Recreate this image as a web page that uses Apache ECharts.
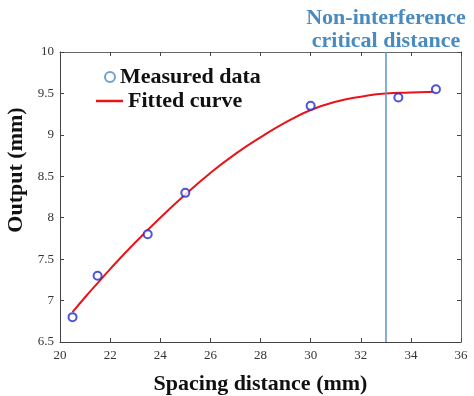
<!DOCTYPE html>
<html lang="en">
<head>
    <meta charset="UTF-8">
    <title>Output vs spacing distance</title>
    <style>
        *{ margin: 0; padding: 0; }
        body{ background: #fff; }
        #chart{ width: 474px; height: 396px; }
    </style>
</head>
<body>
    <div id="chart"></div>
    <script src="https://cdn.jsdelivr.net/npm/echarts@6/dist/echarts.min.js"></script>
    <script>
        // measured points
        var measuredX = [20.5, 21.5, 23.5, 25, 30, 33.5, 35];
        var measuredY = [6.8, 7.3, 7.8, 8.3, 9.35, 9.45, 9.55];
        // fitted curve
        var fitX = [20.5, 21, 21.5, 22, 23, 24, 25, 26, 27, 28, 29, 30, 31, 32, 33, 34, 35];
        var fitY = [6.86, 7.04, 7.21, 7.38, 7.7, 8.0, 8.28, 8.54, 8.77, 8.97, 9.15, 9.3, 9.4, 9.46, 9.5, 9.51, 9.52];
        var criticalX = 33;
        var xTicks = [20, 36, 2];
        var yTicks = [6.5, 10, 0.5];

        var serif = '"Liberation Serif", "DejaVu Serif", serif';
        var chart = echarts.init(document.getElementById('chart'));

        function pairs(xs, ys){
            return xs.map(function(x, i){ return [x, ys[i]]; });
        }

        function frameAxis(pos){
            return {
                type: 'value',
                position: pos,
                min: pos === 'top' ? xTicks[0] : yTicks[0],
                max: pos === 'top' ? xTicks[1] : yTicks[1],
                interval: pos === 'top' ? xTicks[2] : yTicks[2],
                axisLine: { show: true, lineStyle: { color: '#666', width: 1 } },
                axisTick: { show: true, inside: true, length: 4, lineStyle: { color: '#444' } },
                axisLabel: { show: false },
                splitLine: { show: false }
            };
        }

        var nameStyle = { fontFamily: serif, fontWeight: 'bold', fontSize: 22, color: '#111' };
        var tickStyle = { fontFamily: serif, fontSize: 13, color: '#333' };

        var option = {
            animation: false,
            grid: { left: 60, right: 13, top: 52, bottom: 54, outerBoundsMode: 'none' },
            title: {
                text: 'Non-interference\ncritical distance',
                left: 381,
                top: 2,
                textAlign: 'center',
                textStyle: {
                    fontFamily: serif,
                    fontWeight: 'bold',
                    fontSize: 22,
                    lineHeight: 23,
                    color: '#4a8bbf'
                }
            },
            legend: [{
                data: [{
                    name: 'Measured data',
                    icon: 'emptyCircle',
                    itemStyle: { color: '#4a8bbf', borderColor: '#4a8bbf', borderWidth: 2 }
                }],
                left: 99,
                top: 61,
                itemWidth: 10,
                itemHeight: 10,
                textStyle: nameStyle
            }, {
                data: [{ name: 'Fitted curve', icon: 'rect' }],
                left: 91,
                top: 85,
                itemWidth: 27,
                itemHeight: 2.5,
                textStyle: nameStyle
            }],
            xAxis: [{
                type: 'value',
                min: xTicks[0],
                max: xTicks[1],
                interval: xTicks[2],
                name: 'Spacing distance (mm)',
                nameLocation: 'middle',
                nameGap: 31,
                nameTextStyle: nameStyle,
                axisLine: { show: true, lineStyle: { color: '#444', width: 1 } },
                axisTick: { show: true, inside: true, length: 4, lineStyle: { color: '#444' } },
                axisLabel: Object.assign({ margin: 7 }, tickStyle),
                splitLine: { show: false }
            }, frameAxis('top')],
            yAxis: [{
                type: 'value',
                min: yTicks[0],
                max: yTicks[1],
                interval: yTicks[2],
                name: 'Output (mm)',
                nameLocation: 'middle',
                nameGap: 32,
                nameTextStyle: Object.assign({ padding: [0, 0, 0, 54] }, nameStyle),
                axisLine: { show: true, lineStyle: { color: '#444', width: 1 } },
                axisTick: { show: true, inside: true, length: 4, lineStyle: { color: '#444' } },
                axisLabel: Object.assign({ margin: 6 }, tickStyle),
                splitLine: { show: false }
            }, frameAxis('right')],
            series: [{
                name: 'Fitted curve',
                type: 'line',
                data: pairs(fitX, fitY),
                smooth: true,
                symbol: 'none',
                lineStyle: { color: '#e8141a', width: 2 },
                itemStyle: { color: '#e8141a' },
                markLine: {
                    silent: true,
                    symbol: 'none',
                    label: { show: false },
                    lineStyle: { color: '#5b93c7', width: 1.5, type: 'solid' },
                    data: [{ xAxis: criticalX }]
                },
                z: 2
            }, {
                name: 'Measured data',
                type: 'scatter',
                data: pairs(measuredX, measuredY),
                symbol: 'emptyCircle',
                symbolSize: 8,
                itemStyle: { color: '#1f2bd0', borderWidth: 2 },
                z: 3
            }]
        };

        chart.setOption(option);
    </script>
</body>
</html>
